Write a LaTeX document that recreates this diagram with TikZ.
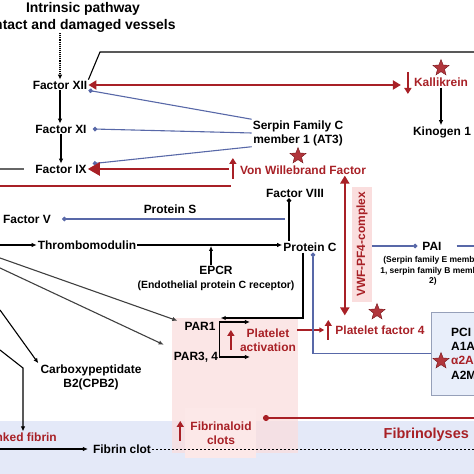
\documentclass[tikz,border=0pt]{standalone}
\usepackage{fontspec}
\setmainfont{Liberation Sans}
\usepackage{tikz}
\usetikzlibrary{arrows.meta,shapes.geometric}

\definecolor{darkred}{RGB}{168,32,38}
\definecolor{lineblue}{RGB}{88,104,168}
\definecolor{bandblue}{RGB}{228,233,248}
\definecolor{colpink}{RGB}{250,222,222}
\definecolor{clotpink}{RGB}{252,232,232}
\definecolor{boxblue}{RGB}{232,238,250}
\definecolor{boxedge}{RGB}{150,160,185}

\begin{document}
\begin{tikzpicture}[x=1bp, y=1bp,
    lbl/.style={font=\bfseries\fontsize{12}{14}\selectfont, inner sep=1bp, align=center},
    rlbl/.style={lbl, text=darkred},
    blk/.style={line width=1.1bp, -{Latex[length=5bp,width=4.5bp]}},
    bln/.style={lineblue, line width=1.1bp},
    redarr/.style={darkred, line width=2.4bp, -{Triangle[length=8bp,width=9bp]}},
    redsm/.style={darkred, line width=1.3bp, -{Triangle[length=5bp,width=5bp]}},
    upmark/.style={darkred, line width=1.8bp, -{Triangle[length=6bp,width=7bp]}},
    redstar/.style={star, star points=5, star point ratio=2.3, fill=darkred!90, draw=darkred!70!black, minimum size=17bp, inner sep=0pt}]

  \useasboundingbox (0,0) rectangle (474,474);
  \fill[bandblue] (0,0) rectangle (474,53);
  \fill[colpink, fill opacity=0.75] (172,21) rectangle (298,156);
  \fill[clotpink] (185,16) rectangle (256,66);
  \node[fill=colpink, minimum width=20bp, minimum height=115bp, inner sep=0pt] (vwfbox) at (362,229.5) {};
  \node[rlbl, rotate=90] (vwfpf4) at (vwfbox) {VWF-PF4-complex};

  \node[lbl, font=\bfseries\fontsize{14}{17}\selectfont] (intr) at (83,457) {Intrinsic pathway\\Intact and damaged vessels};
  \node[lbl] (fxii) at (60,389) {Factor XII};
  \node[lbl] (fxi) at (61,345) {Factor XI};
  \node[lbl] (fix) at (61,305) {Factor IX};
  \node[lbl] (serpin) at (298,341) {Serpin Family C\\member 1 (AT3)};
  \node[rlbl] (kall) at (441,392) {Kallikrein};
  \node[redstar] (kstar) at (441,406) {};
  \node[lbl] (kin) at (442,342) {Kinogen 1};
  \node[rlbl] (vwf) at (303,304) {Von Willebrand Factor};
  \node[redstar] (vstar) at (298,318) {};
  \node[lbl] (fviii) at (295,281) {Factor VIII};
  \node[lbl] (prots) at (170,265) {Protein S};
  \node[lbl] (fv) at (27,255) {Factor V};
  \node[lbl] (thrombo) at (87,229) {Thrombomodulin};
  \node[lbl] (protc) at (310,227) {Protein C};
  \node[lbl] (epcr) at (216,196) {EPCR\\{\fontsize{10.5}{12}\selectfont(Endothelial protein C receptor)}};
  \node[lbl] (pai) at (432,228) {PAI};
  \node[lbl, font=\bfseries\fontsize{8.5}{10.5}\selectfont] (paitxt) at (433,203) {(Serpin family E member\\1, serpin family B member\\2)};
  \node[lbl] (par1) at (200,148) {PAR1};
  \node[lbl] (par34) at (196,117) {PAR3, 4};
  \node[rlbl] (platact) at (268,134) {Platelet\\activation};
  \node[rlbl] (pf4) at (380,144) {Platelet factor 4};
  \node[redstar] (pstar) at (377,162) {};
  \node[lbl, draw=boxedge, fill=boxblue, anchor=west, minimum height=83bp, text width=40bp, inner xsep=20bp, align=left, font=\bfseries\fontsize{12}{14.5}\selectfont] (pci) at (431,120.5) {PCI\\A1AT\\\textcolor{darkred}{α2AP}\\A2M};
  \node[redstar] (cstar) at (441,113) {};
  \node[lbl] (cpb2) at (91,97) {Carboxypeptidate\\B2(CPB2)};
  \node[rlbl, anchor=east] (xfibrin) at (58,37) {Cross-linked fibrin};
  \node[lbl] (fclot) at (122,25) {Fibrin clot};
  \node[rlbl] (fibclots) at (221,41) {Fibrinaloid\\clots};
  \node[rlbl, font=\bfseries\fontsize{14.5}{17}\selectfont, anchor=east] (fibrinol) at (470,39) {Fibrinolyses};

  \coordinate (topend) at (474,422);
  \coordinate (kmark) at ([xshift=-12bp]kall.west);
  \coordinate (vwfin) at ([xshift=-10bp]vwf.west);
  \coordinate (vwfline) at (231,288);
  \coordinate (ixin) at (0,305);
  \coordinate (f8) at ([xshift=-6bp]fviii.south);
  \coordinate (fvdot) at ([xshift=10bp]fv.east);
  \coordinate (thin) at (0,229);
  \coordinate (ep) at ([xshift=-5bp]epcr.north);
  \coordinate (pc1) at ([xshift=-7bp]protc.south);
  \coordinate (p1in) at ([xshift=4bp,yshift=8bp]par1.east);
  \coordinate (brk) at ([xshift=3bp,yshift=4bp]par1.east);
  \coordinate (pa) at ([xshift=11bp]platact.west);
  \coordinate (vp) at ([xshift=-7bp]vwfbox.west);
  \coordinate (paidot) at ([xshift=-4bp]pai.west);
  \coordinate (paiout) at (474,228);
  \coordinate (pcb) at ([xshift=3bp]protc.south);
  \coordinate (l1) at (0,216);
  \coordinate (l2) at (0,206);
  \coordinate (l3) at (0,164);
  \coordinate (l4) at (0,124);
  \coordinate (lk) at (23,106);
  \coordinate (l5) at (0,25);
  \coordinate (dotend) at (474,26);
  \coordinate (fl) at (263,56);
  \coordinate (flend) at (474,56);

  \draw[blk, densely dotted] (intr.south -| fxii.north) -- (fxii.north);
  \draw[blk] (fxii.south) -- (fxii.south |- fxi.north);
  \draw[blk] (fxi.south) -- (fxi.south |- fix.north);
  \draw[line width=1.1bp] (fxii.north east) -- (100,422) -- (topend);
  \draw[redarr, {Triangle[length=8bp,width=9bp]}-{Triangle[length=8bp,width=9bp]}] (fxii.east) -- (fxii.east -| kmark);
  \draw[upmark] ([xshift=-5bp,yshift=10bp]kall.west) -- ++(0,-22);
  \draw[blk] (kall.south) -- (kall.south |- kin.north);
  \draw[bln, {Circle[length=4.5bp]}-] (fxii.south east) -- (serpin.north west);
  \draw[bln, {Circle[length=4.5bp]}-] ([xshift=5bp]fxi.east) -- (serpin.west);
  \draw[bln, {Circle[length=4.5bp]}-] ([xshift=5bp]fix.north east) -- (serpin.south west);
  \draw[redarr, -{Triangle[length=12bp,width=13bp]}] (vwfin |- fix.east) -- (fix.east);
  \draw[upmark] ([xshift=-6bp,yshift=-9bp]vwf.west) -- ++(0,21);
  \draw[darkred, line width=2.4bp] (0,288) -- (vwfline);
  \draw[line width=1.1bp, black!60] (ixin) -- ([xshift=-10bp]fix.west);
  \draw[line width=1.1bp, {Circle[length=4.5bp]}-] (f8) -- (f8 |- protc.north);
  \draw[bln, {Circle[length=4.5bp]}-, shorten >=4bp] (fvdot) -- (fvdot -| f8);
  \draw[blk] (thin) -- (thrombo.west);
  \draw[blk] (thrombo.east) -- (thrombo.east -| protc.west);
  \draw[blk, shorten >=1bp] (ep) -- (ep |- thrombo.east);
  \draw[blk] (pc1) |- (p1in);
  \draw[blk, {Latex[length=5bp,width=4.5bp]}-{Latex[length=5bp,width=4.5bp]}] (pa |- brk) -- (brk) |- (pa |- par34);
  \draw[upmark] ([xshift=-8bp,yshift=-10bp]platact.west) -- ++(0,20);
  \draw[redsm] (platact.east |- pf4.west) -- ([xshift=-10bp]pf4.west);
  \draw[upmark] ([xshift=-6bp,yshift=-10bp]pf4.west) -- ++(0,20);
  \draw[redarr, {Triangle[length=8bp,width=9bp]}-{Triangle[length=8bp,width=9bp]}, shorten >=9bp] (vp |- vwf.south) -- (vp |- pf4.north);
  \draw[bln, -{Circle[length=4.5bp]}] (vwfbox.east |- paidot) -- (paidot);
  \draw[bln] ([xshift=14bp]pai.east) -- (paiout);
  \draw[bln, {Circle[length=4.5bp]}-] (pcb) |- (pci.west);
  \draw[blk, black!75] (l1) -- ([xshift=-6bp]par1.north west);
  \draw[blk, black!75] (l2) -- ([xshift=-9bp,yshift=6bp]par34.north west);
  \draw[blk] (l3) -- ([xshift=-1bp]cpb2.north west);
  \draw[blk] (l4) -- (lk) -- (lk |- xfibrin.north);
  \draw[blk, shorten >=4bp] (l5) -- (l5 -| fclot.west);
  \draw[dash pattern=on 2bp off 2bp, line width=0.8bp] (fclot.east) -- (fclot.east -| dotend);
  \draw[upmark] ([xshift=-9bp,yshift=-8bp]fibclots.west) -- ++(0,20);
  \draw[darkred, line width=1.8bp, {Circle[length=6bp]}-] (fl) -- (flend);
\end{tikzpicture}
\end{document}
